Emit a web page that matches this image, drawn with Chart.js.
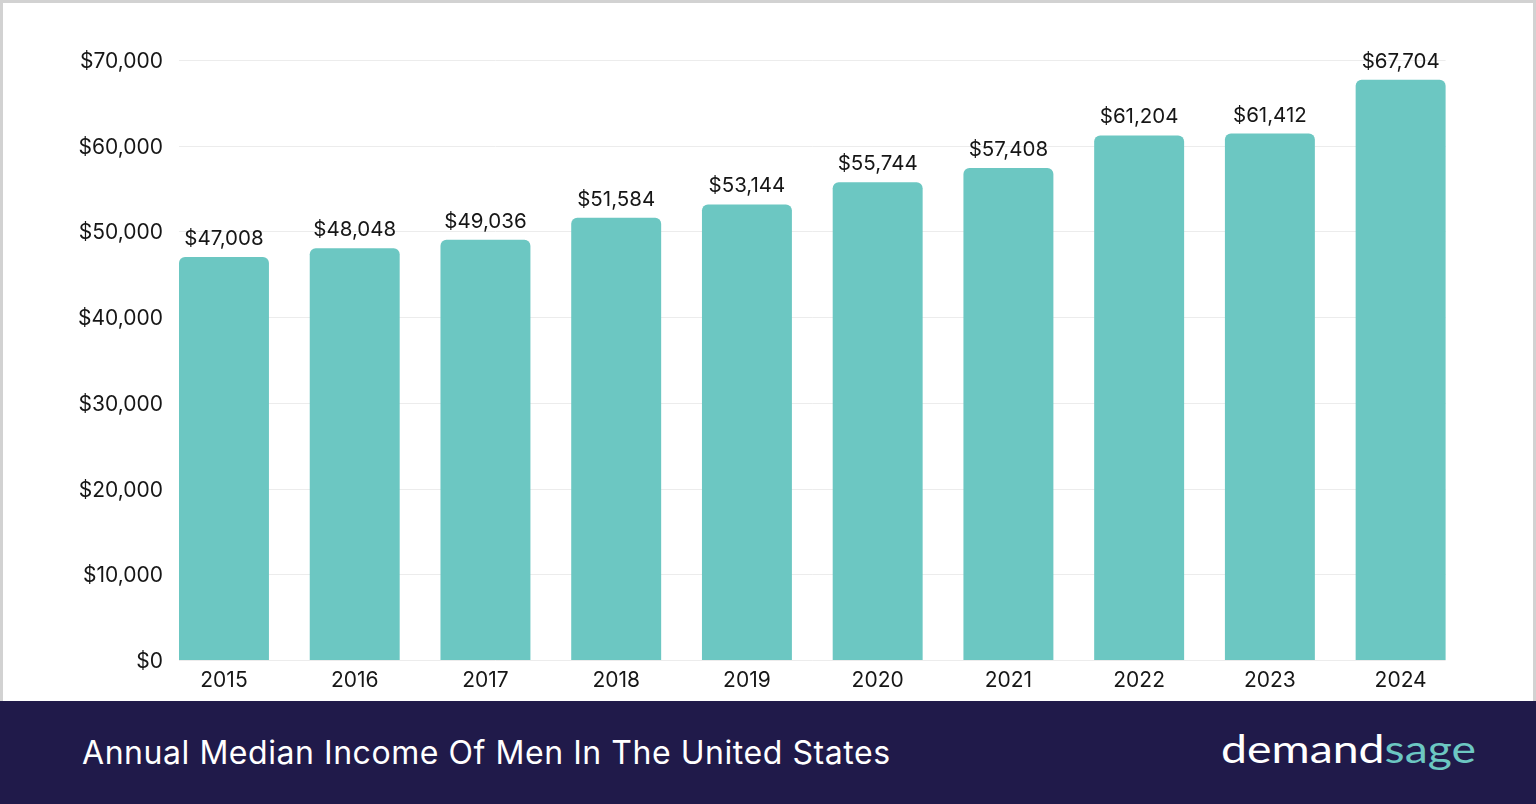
<!DOCTYPE html>
<html>
<head>
<meta charset="utf-8">
<script src="https://cdn.jsdelivr.net/npm/chart.js@4.4.1/dist/chart.umd.min.js"></script>
<style>
  html, body { margin: 0; padding: 0; background: #fff; }
  #wrap { position: relative; width: 1536px; height: 804px; overflow: hidden; }
  #panel {
    position: absolute; left: 0; top: 0; width: 1536px; height: 701px;
    box-sizing: border-box; border: 3px solid #d2d2d2; border-bottom: none; background: #fff;
  }
  #chart-box { position: absolute; left: 0; top: 0; width: 1536px; height: 701px; }
  #footer {
    position: absolute; left: 0; top: 701px; width: 1536px; height: 103px; background: #201a4a;
  }
  #title {
    position: absolute; left: 82px; top: 32px; color: #fff;
    font: 32px Inter, "Liberation Sans", sans-serif; letter-spacing: 0.55px;
  }
  #logo {
    position: absolute; left: 1221px; top: 24px; color: #fff;
    font: 38px Lato, "Noto Sans", sans-serif; transform-origin: left top; white-space: nowrap;
  }
  #logo span { color: #6cc7c2; }
</style>
</head>
<body>
<div id="wrap">
  <div id="panel"></div>
  <div id="chart-box"><canvas id="chart"></canvas></div>
  <div id="footer">
    <div id="title">Annual Median Income Of Men In The United States</div>
    <div id="logo">demand<span>sage</span></div>
  </div>
</div>
<script>
const YEARS = ['2015', '2016', '2017', '2018', '2019', '2020', '2021', '2022', '2023', '2024'];
const INCOME = [47008, 48048, 49036, 51584, 53144, 55744, 57408, 61204, 61412, 67704];
const Y_TICKS = [0, 10000, 20000, 30000, 40000, 50000, 60000, 70000];

const BAR_COLOR = '#6cc7c2';
const TEXT_COLOR = '#161616';
const GRID_COLOR = '#ececec';
const FONT = 'Inter, "Liberation Sans", sans-serif';

function money(v) {
  return '$' + v.toLocaleString('en-US');
}

// grid lines only span from first bar to last bar, labels sit just left of the first bar
const gridPlugin = {
  id: 'barGrid',
  beforeDatasetsDraw(chart) {
    const bars = chart.getDatasetMeta(0).data;
    if (!bars.length) return;
    const first = bars[0];
    const last = bars[bars.length - 1];
    const x0 = first.x - first.width / 2;
    const x1 = last.x + last.width / 2;
    const y = chart.scales.y;
    const ctx = chart.ctx;
    ctx.save();
    ctx.strokeStyle = GRID_COLOR;
    ctx.lineWidth = 1;
    ctx.font = `21px ${FONT}`;
    ctx.fillStyle = TEXT_COLOR;
    ctx.textAlign = 'right';
    ctx.textBaseline = 'middle';
    Y_TICKS.forEach((t) => {
      const py = Math.round(y.getPixelForValue(t)) + 0.5;
      ctx.beginPath();
      ctx.moveTo(x0, py);
      ctx.lineTo(x1, py);
      ctx.stroke();
      ctx.fillText(money(t), x0 - 16, py + 1);
    });
    ctx.restore();
  },
};

const valueLabels = {
  id: 'valueLabels',
  afterDatasetsDraw(chart) {
    const ctx = chart.ctx;
    ctx.save();
    ctx.font = `20.5px ${FONT}`;
    ctx.fillStyle = TEXT_COLOR;
    ctx.textAlign = 'center';
    ctx.textBaseline = 'alphabetic';
    chart.getDatasetMeta(0).data.forEach((bar, i) => {
      ctx.fillText(money(INCOME[i]), bar.x, bar.y - 12);
    });
    ctx.restore();
  },
};

const canvas = document.getElementById('chart');
new Chart(canvas, {
  type: 'bar',
  data: {
    labels: YEARS,
    datasets: [{
      label: 'Median income',
      data: INCOME,
      backgroundColor: BAR_COLOR,
      borderRadius: { topLeft: 6, topRight: 6 },
      borderSkipped: 'bottom',
      categoryPercentage: 1,
      barPercentage: 0.688,
    }],
  },
  options: {
    responsive: true,
    maintainAspectRatio: false,
    animation: false,
    layout: { padding: { left: 0, right: 70, top: 60, bottom: 0 } },
    plugins: { legend: { display: false }, tooltip: { enabled: false } },
    scales: {
      x: {
        grid: { display: false, drawTicks: false },
        border: { display: false },
        ticks: { color: TEXT_COLOR, font: { family: FONT, size: 21 }, padding: 8 },
        afterFit(scale) { scale.height = 41; },
      },
      y: {
        min: 0,
        max: 70000,
        grid: { display: false, drawTicks: false },
        border: { display: false },
        afterBuildTicks(scale) { scale.ticks = Y_TICKS.map((v) => ({ value: v })); },
        ticks: { display: false },
        afterFit(scale) { scale.width = 158.6; },
      },
    },
  },
  plugins: [gridPlugin, valueLabels],
});

// stretch the logo to the width it has in the reference
const logo = document.getElementById('logo');
logo.style.transform = `scaleX(${255 / logo.getBoundingClientRect().width})`;
</script>
</body>
</html>
